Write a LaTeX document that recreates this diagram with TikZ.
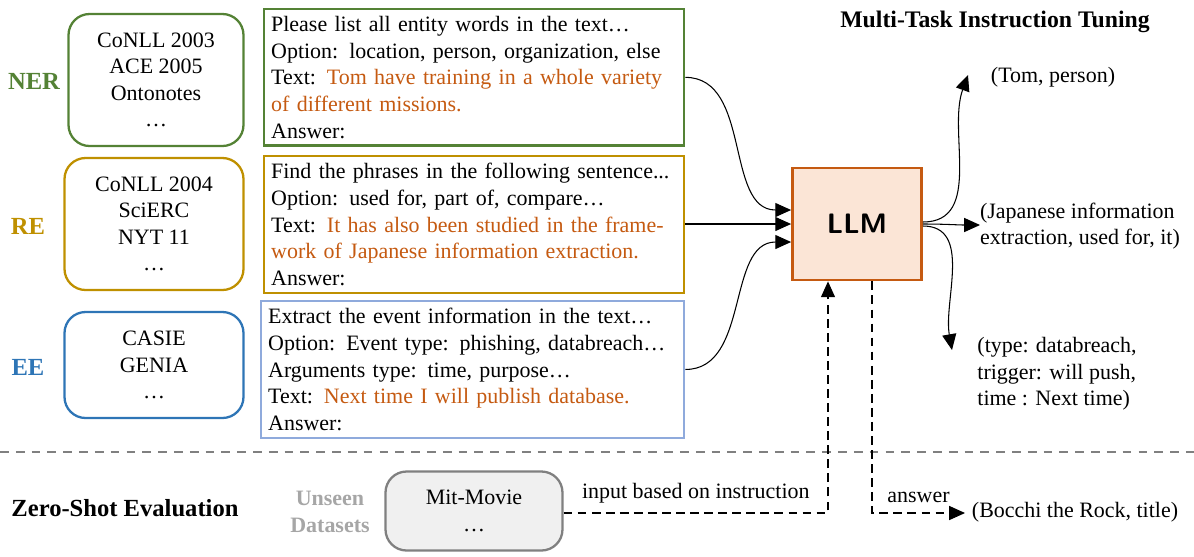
\documentclass[tikz,border=0pt]{standalone}
\usepackage{fontspec}
\setmainfont{Liberation Serif}
\usetikzlibrary{arrows.meta,calc}
\definecolor{nergreen}{RGB}{84,130,53}
\definecolor{reyellow}{RGB}{191,144,0}
\definecolor{eeblue}{RGB}{143,170,220}
\definecolor{eedark}{RGB}{46,117,182}
\definecolor{txtred}{RGB}{197,90,17}
\definecolor{llmfill}{RGB}{251,229,214}
\tikzset{
  data/.style={draw=#1, line width=1.3pt, rounded corners=12pt, align=center, font=\fontsize{12.5}{15}\selectfont, inner sep=0pt},
  instr/.style={draw=#1, line width=1.3pt, anchor=north west, align=left, font=\fontsize{12.5}{15.2}\selectfont, inner sep=4pt},
  tag/.style={font=\bfseries\fontsize{14}{16}\selectfont},
  result/.style={align=left, font=\fontsize{12.5}{15}\selectfont},
  arr/.style={-{Triangle[length=9pt,width=8pt]}, line width=0.6pt},
  dasharr/.style={arr, dashed, dash pattern=on 5pt off 3pt}
}
\begin{document}
\begin{tikzpicture}[x=0.02cm, y=-0.02cm]
\useasboundingbox (0,0) rectangle (1194,556);

% datasets
\node[data=nergreen, minimum width=175*0.02cm, minimum height=132*0.02cm] (ner) at (156,80) {CoNLL 2003\\ACE 2005\\Ontonotes\\\dots};
\node[data=reyellow, minimum width=179*0.02cm, minimum height=132*0.02cm] (re) at (154,224) {CoNLL 2004\\SciERC\\NYT 11\\\dots};
\node[data=eedark, minimum width=179*0.02cm, minimum height=106*0.02cm] (ee) at (154,365) {CASIE\\GENIA\\\dots};
\node[tag, text=nergreen] (nertag) at (34,81) {NER};
\node[tag, text=reyellow] (retag) at (28,226) {RE};
\node[tag, text=eedark] (eetag) at (28,367) {EE};

% instructions
\node[instr=nergreen, text width=406*0.02cm] (inner) at (263,8) {Please list all entity words in the text\dots\\Option: location, person, organization, else\\Text: \textcolor{txtred}{Tom have training in a whole variety}\\\textcolor{txtred}{of different missions.}\\Answer:};
\node[instr=reyellow, text width=406*0.02cm] (inre) at (263,155) {Find the phrases in the following sentence...\\Option: used for, part of, compare\dots\\Text: \textcolor{txtred}{It has also been studied in the frame-}\\\textcolor{txtred}{work of Japanese information extraction.}\\Answer:};
\node[instr=eeblue, text width=409*0.02cm] (inee) at (260,300) {Extract the event information in the text\dots\\Option: Event type: phishing, databreach\dots\\Arguments type: time, purpose\dots\\Text: \textcolor{txtred}{Next time I will publish database.}\\Answer:};

% model
\node[draw=txtred, fill=llmfill, line width=1.6pt, minimum width=129*0.02cm, minimum height=112*0.02cm, font=\sffamily\bfseries\fontsize{16}{18}\selectfont] (llm) at (857,224) {LLM};
\node[font=\bfseries\fontsize{13.5}{16}\selectfont] (title) at (995,22) {Multi-Task Instruction Tuning};

% outputs
\node[result] (o1) at (1053,77) {(Tom, person)};
\node[result] (o2) at (1080,226) {(Japanese information\\ extraction, used for, it)};
\node[result] (o3) at (1057,374) {(type: databreach,\\ trigger: will push,\\ time : Next time)};
\coordinate (t1) at (968,75);
\coordinate (t2) at (980,225);
\coordinate (t3) at (952,350);

\draw[arr] (inner.east) to[out=0, in=180] ($(llm.west)+(0,-14)$);
\draw[arr] (inre.east |- llm.west) -- (llm.west);
\draw[arr] (inee.east) to[out=0, in=180] ($(llm.west)+(0,18)$);
\draw[arr] ($(llm.east)+(0,-2)$) to[out=0, in=250] (t1);
\draw[arr] (llm.east) to[out=0, in=180] (t2);
\draw[arr] ($(llm.east)+(0,2)$) to[out=0, in=100] (t3);

% separator
\draw[gray, line width=1pt, dashed, dash pattern=on 5pt off 4pt] (0,452) -- (1194,452);

% zero-shot
\node[tag] (zs) at (125,508) {Zero-Shot Evaluation};
\node[font=\bfseries\fontsize{12.5}{15}\selectfont, text=gray!70, align=center] (unseen) at (330,512) {Unseen\\Datasets};
\node[data=gray, fill=gray!12, minimum width=177*0.02cm, minimum height=79*0.02cm] (mit) at (474,511) {Mit-Movie\\\dots};
\coordinate (turn1) at (828,513);
\coordinate (turn2) at (872,513);
\coordinate (ans) at (965,513);
\node[result] (bocchi) at (1075,512) {(Bocchi the Rock, title)};
\draw[dasharr] (mit.east |- turn1) -- node[above, result, yshift=2pt] {input based on instruction} (turn1) -- (turn1 |- llm.south);
\draw[dasharr] (turn2 |- llm.south) -- (turn2) -- node[above, result, yshift=2pt] {answer} (ans);
\end{tikzpicture}
\end{document}
